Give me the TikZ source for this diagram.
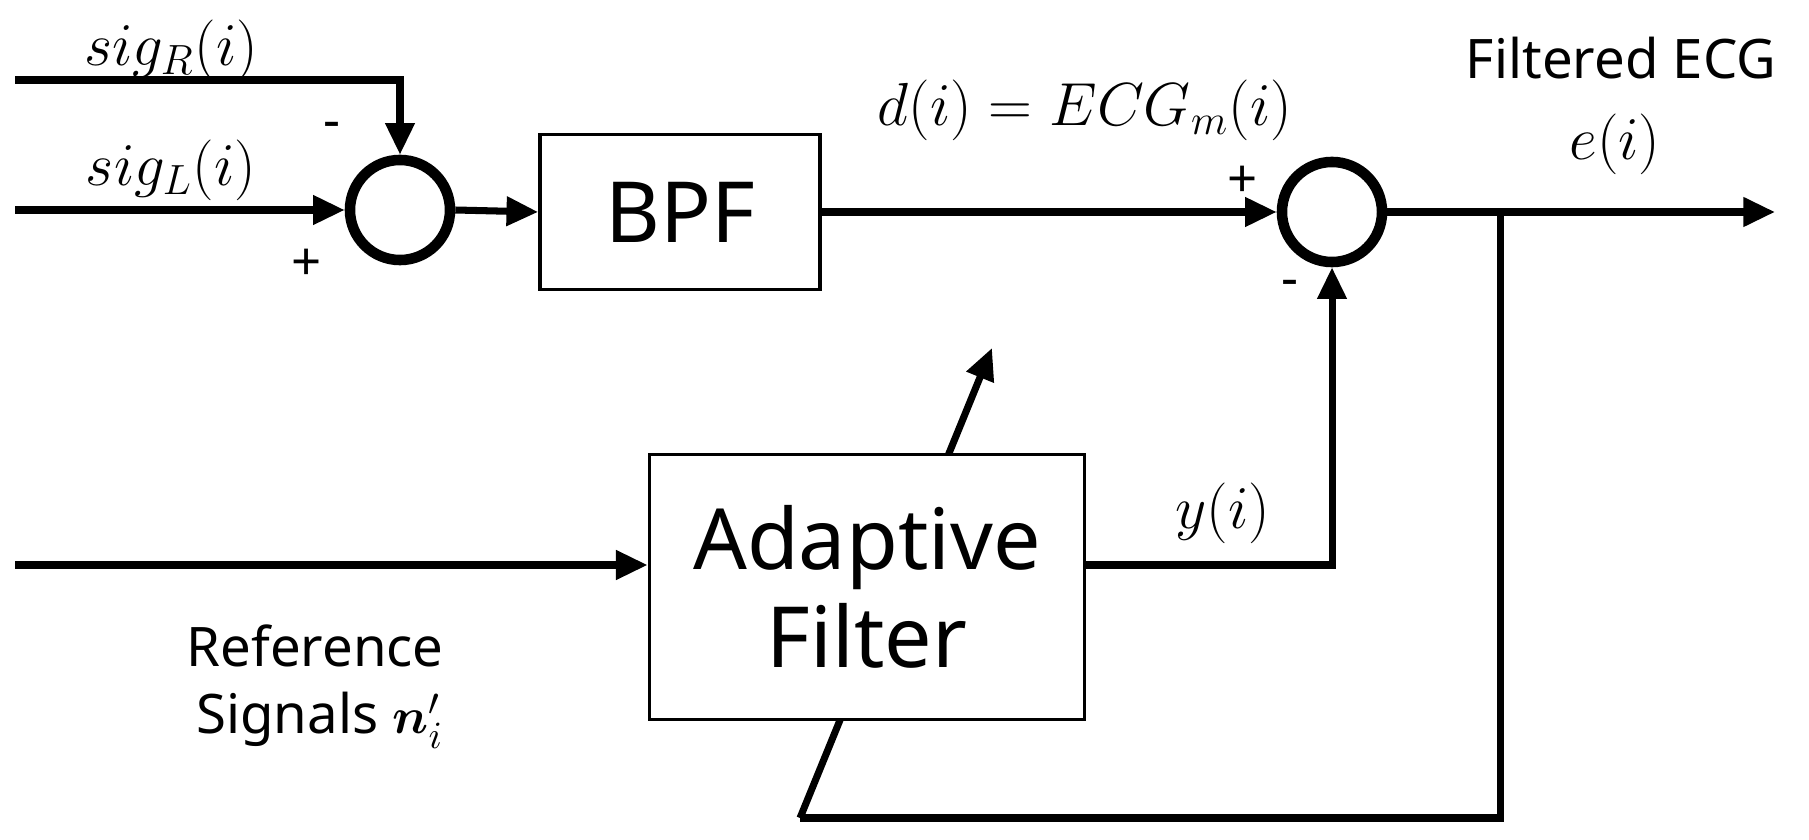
\documentclass[tikz,border=0pt]{standalone}
\usepackage{fontspec}
\setmainfont{Noto Sans}
\usepackage{amsmath}
\usetikzlibrary{arrows.meta, calc}

\begin{document}
\begin{tikzpicture}[x=0.01cm, y=-0.01cm,
    sig/.style={line width=2pt, -{Triangle[length=9pt, width=8pt]}},
    wire/.style={line width=2pt},
    block/.style={draw, line width=1pt, fill=white, align=center, font=\fontsize{24}{28}\selectfont},
    sum/.style={circle, draw, line width=3pt, minimum size=1.0cm, inner sep=0pt},
    lab/.style={font=\fontsize{15.5}{19}\selectfont},
    mlab/.style={font=\fontsize{18}{21}\selectfont},
    sgn/.style={font=\fontsize{15}{18}\selectfont}
  ]
  \useasboundingbox (0,0) rectangle (1809,840);

  % --- nodes ---
  \node[sum] (s1) at (400,210) {};
  \node[block, minimum width=2.8cm, minimum height=1.55cm] (bpf) at (680,212) {BPF};
  \node[sum] (s2) at (1332,212) {};
  \node[block, minimum width=4.35cm, minimum height=2.65cm] (af) at (867,587) {Adaptive\\Filter};

  \coordinate (inR) at (15,80);
  \coordinate (cR) at (400,80);
  \coordinate (inL) at (15,210);
  \coordinate (inN) at (15,565);
  \coordinate (out) at (1775,212);
  \coordinate (tap) at (1500,212);
  \coordinate (fb1) at (1500,818);
  \coordinate (fb2) at (800,818);
  \coordinate (tip) at (992,348);
  \coordinate (yc) at (1332,565);

  % --- connectors ---
  \draw[sig] (inR) -- (cR) -- (s1.north);
  \draw[sig] (inL) -- (s1.west);
  \draw[sig] (s1.east) -- (bpf.west);
  \draw[sig] (bpf.east) -- (s2.west);
  \draw[sig] (s2.east) -- (out);
  \draw[sig] (inN) -- (af.west |- inN);
  \draw[sig] (af.east |- yc) -- (yc) -- (s2.south);
  \draw[wire] (tap) -- (fb1) -- (fb2);
  \draw[sig] (fb2) -- (tip);
  \node[block, minimum width=4.35cm, minimum height=2.65cm] at (af) {Adaptive\\Filter};

  % --- labels ---
  \node[mlab] at (171,50) {$sig_R(i)$};
  \node[mlab] at (171,170) {$sig_L(i)$};
  \node[sgn] at (332,130) {-};
  \node[sgn] at (307,265) {+};
  \node[mlab] at (1085,110) {$d(i) = ECG_m(i)$};
  \node[sgn] at (1243,182) {+};
  \node[sgn] at (1290,288) {-};
  \node[lab] at (1621,58) {Filtered ECG};
  \node[mlab] at (1615,144) {$e(i)$};
  \node[mlab] at (1223,513) {$y(i)$};
  \node[lab, align=right, anchor=east] at (456,687) {Reference\\Signals $\boldsymbol{n}_i'$};
\end{tikzpicture}
\end{document}
